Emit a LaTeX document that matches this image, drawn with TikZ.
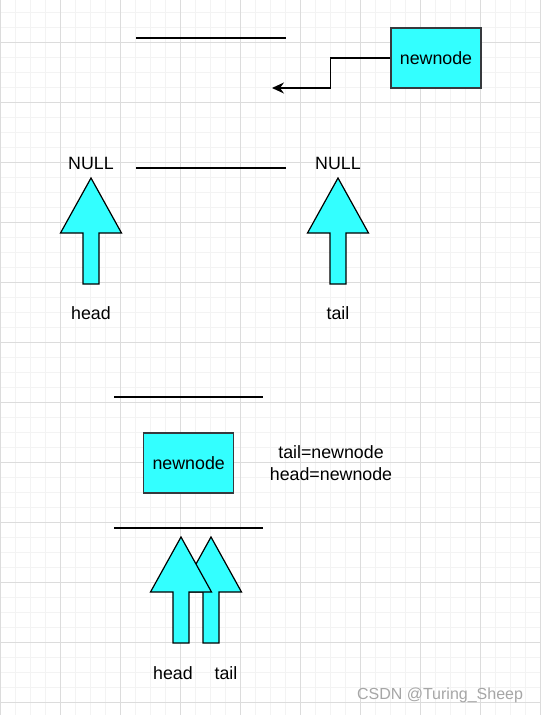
\documentclass[tikz,border=0pt]{standalone}
\usepackage{fontspec}
\setmainfont{Liberation Sans}
\usetikzlibrary{arrows.meta,calc}
\definecolor{cianNodo}{HTML}{33FFFF}
\definecolor{bordeNodo}{HTML}{36393D}
\definecolor{rejillaMayor}{HTML}{DCDCDC}
\definecolor{rejillaMenor}{HTML}{F3F3F3}
\definecolor{marcaAgua}{HTML}{A6A6A6}

\newcommand\flechaArriba[2]{%
  \filldraw[bloque] (#1,#2) -- ++(30.5,55) -- ++(-22.5,0) -- ++(0,51)
    -- ++(-16,0) -- ++(0,-51) -- ++(-22.5,0) -- cycle;}

\tikzset{
  nodo/.style={draw=bordeNodo,fill=cianNodo,line width=1.2pt,
    minimum width=90pt,minimum height=60pt,inner sep=0pt},
  bloque/.style={draw=black,fill=cianNodo,line width=1.2pt},
  texto/.style={anchor=base,inner sep=0pt},
  raya/.style={line width=1.3pt},
}

\begin{document}
\begin{tikzpicture}[x=1pt,y=-1pt,>={Stealth[length=12pt,width=11pt,inset=4pt]},
    font=\fontsize{17.8}{22.4}\selectfont]
  \useasboundingbox[fill=white] (0,0) rectangle (541,715);
  \foreach \x in {0.7,15.7,...,540.7} \draw[rejillaMenor,line width=1pt] (\x,0) -- (\x,715);
  \foreach \y in {12,27,...,707} \draw[rejillaMenor,line width=1pt] (0,\y) -- (541,\y);
  \foreach \x in {0.7,60.7,...,540.7} \draw[rejillaMayor,line width=1pt] (\x,0) -- (\x,715);
  \foreach \y in {42,102,...,702} \draw[rejillaMayor,line width=1pt] (0,\y) -- (541,\y);

  \draw[raya] (136,38) -- (286,38);
  \draw[raya] (136,168) -- (286,168);
  \node[nodo] (nuevo1) at (436,58) {newnode};
  \coordinate (destino) at (272,88);
  \draw[->,line width=1.2pt] (nuevo1.west) -- ++(-60,0) |- (destino);

  \node[texto] (null1) at (91,169.3) {NULL};
  \node[texto] (null2) at (338,169.3) {NULL};
  \flechaArriba{91}{178}
  \flechaArriba{338}{178}
  \node[texto] (cabeza1) at (91,319.3) {head};
  \node[texto] (cola1) at (338,319.3) {tail};

  \draw[raya] (114,397) -- (263,397);
  \draw[raya] (114,528) -- (263,528);
  \node[nodo] (nuevo2) at (188.7,463) {newnode};
  \node[align=center,inner sep=0pt] (asigna) at (331,463) {tail=newnode\\head=newnode};
  \flechaArriba{211}{537}
  \flechaArriba{181}{537}
  \node[texto] (cabeza2) at (173,679.3) {head};
  \node[texto] (cola2) at (226,679.3) {tail};

  \node[texto,marcaAgua,font=\fontsize{16}{19}\selectfont] (marca) at (440,699) {CSDN @Turing\_Sheep};
\end{tikzpicture}
\end{document}
